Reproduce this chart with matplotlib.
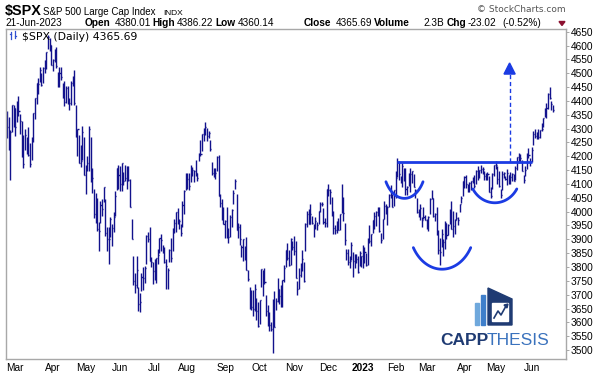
import numpy as np
import pandas as pd
import matplotlib
matplotlib.use("Agg")
import matplotlib.pyplot as plt
from matplotlib.patches import Polygon, Rectangle

W, H = 596, 374

# $SPX daily bars, 22-Feb-2022 .. 21-Jun-2023 (high, low, close)
highs = [
    4362, 4341, 4295, 4385, 4385,  # Feb 22
    4375, 4401, 4416, 4354, 4327, 4276, 4299, 4268, 4304, 4247, 4271, 4358, 4412, 4465, 4481, 4522, 4501, 4521, 4546, 4575, 4637, 4627, 4603,
    4550, 4587, 4594, 4504, 4521, 4521, 4464, 4471, 4453, 4453, 4410, 4471, 4489, 4513, 4386, 4300, 4278, 4240, 4308, 4269,
    4169, 4200, 4308, 4270, 4157, 4082, 4068, 4050, 3964, 4039, 4046, 4090, 4046, 3946, 3944, 3981, 3955, 3999, 4075, 4158, 4169,
    4166, 4177, 4143, 4168, 4164, 4164, 4119, 3975, 3838, 3778, 3838, 3728, 3707, 3779, 3801, 3802, 3914, 3928, 3946, 3836, 3819,
    3829, 3833, 3865, 3906, 3919, 3880, 3874, 3829, 3796, 3864, 3903, 3940, 3975, 4000, 4013, 3975, 3954, 4039, 4078, 4141,
    4140, 4141, 4168, 4161, 4151, 4187, 4141, 4211, 4257, 4280, 4301, 4325, 4302, 4293, 4258, 4181, 4159, 4156, 4200, 4204, 4063, 4044, 4015,
    3970, 4018, 3942, 3987, 4010, 4077, 4119, 4062, 3959, 3957, 3880, 3902, 3876, 3907, 3790, 3727, 3716, 3717, 3739, 3687, 3672,
    3682, 3791, 3790, 3797, 3700, 3664, 3639, 3600, 3685, 3713, 3689, 3762, 3722, 3736, 3754, 3807, 3862, 3886, 3860, 3905, 3893,
    3911, 3894, 3750, 3796, 3813, 3860, 3818, 3958, 4001, 4008, 4029, 3983, 3955, 3979, 3962, 4004, 4034, 4035, 4012, 3976, 4081,
    4101, 4080, 4052, 4002, 3951, 3966, 3977, 3991, 4100, 4053, 3959, 3864, 3864, 3839, 3889, 3853, 3846, 3846, 3838, 3858, 3840,
    3878, 3873, 3852, 3906, 3951, 3919, 3970, 3997, 4003, 4015, 4015, 3922, 3973, 4039, 4028, 4020, 4063, 4095, 4063, 4077,
    4148, 4195, 4183, 4127, 4177, 4157, 4157, 4094, 4138, 4157, 4148, 4136, 4081, 4051, 4010, 4029, 3979, 4018, 3988,
    3972, 3984, 4049, 4079, 4051, 3994, 4017, 3935, 3906, 3938, 3902, 3965, 3958, 3956, 4009, 4039, 4003, 3972, 3999, 3979, 4028, 4055, 4110,
    4128, 4133, 4100, 4108, 4110, 4125, 4132, 4150, 4164, 4152, 4169, 4163, 4148, 4138, 4142, 4127, 4089, 4139, 4170,
    4184, 4164, 4148, 4083, 4147, 4142, 4130, 4154, 4133, 4143, 4141, 4136, 4164, 4199, 4212, 4209, 4186, 4132, 4165, 4213, 4231, 4193,
    4232, 4290, 4299, 4288, 4299, 4295, 4322, 4340, 4375, 4391, 4429, 4449, 4400, 4386,
]
lows = [
    4267, 4221, 4115, 4287, 4306,
    4274, 4323, 4345, 4279, 4199, 4157, 4223, 4209, 4200, 4162, 4187, 4252, 4335, 4390, 4424, 4469, 4455, 4466, 4501, 4517, 4589, 4582, 4530,
    4509, 4540, 4519, 4452, 4450, 4474, 4409, 4381, 4392, 4390, 4367, 4387, 4455, 4385, 4268, 4200, 4174, 4162, 4188, 4131,
    4062, 4145, 4146, 4107, 4068, 3976, 3958, 3929, 3859, 3958, 3984, 4034, 3912, 3856, 3810, 3909, 3875, 3925, 3984, 4077, 4083,
    4074, 4074, 4097, 4110, 4080, 4110, 4017, 3900, 3734, 3706, 3723, 3640, 3637, 3715, 3717, 3743, 3810, 3889, 3821, 3800, 3738,
    3753, 3742, 3810, 3850, 3859, 3850, 3814, 3722, 3721, 3818, 3818, 3859, 3924, 3928, 3956, 3937, 3911, 3945, 3993, 4079,
    4080, 4079, 4107, 4128, 4107, 4128, 4112, 4183, 4201, 4219, 4256, 4277, 4254, 4265, 4218, 4131, 4125, 4119, 4147, 4057, 4017, 3971, 3954,
    3903, 3906, 3886, 3907, 3944, 4029, 4083, 3933, 3906, 3880, 3837, 3823, 3827, 3789, 3750, 3647, 3644, 3624, 3640, 3610, 3584,
    3594, 3726, 3696, 3739, 3624, 3588, 3568, 3570, 3491, 3584, 3644, 3673, 3666, 3656, 3657, 3746, 3799, 3825, 3803, 3808, 3863,
    3843, 3759, 3699, 3722, 3764, 3787, 3745, 3859, 3944, 3956, 3954, 3954, 3907, 3936, 3933, 3956, 3999, 4020, 3956, 3945, 3943,
    4056, 4027, 3985, 3918, 3918, 3921, 3933, 3935, 3994, 3966, 3879, 3827, 3807, 3796, 3827, 3765, 3798, 3813, 3780, 3805, 3801,
    3795, 3815, 3802, 3809, 3888, 3877, 3924, 3937, 3947, 3984, 3926, 3885, 3900, 3973, 3990, 3950, 4017, 4049, 4018, 4020,
    4048, 4124, 4115, 4103, 4089, 4111, 4060, 4061, 4092, 4071, 4103, 4088, 4048, 3996, 3981, 3971, 3943, 3973, 3968,
    3939, 3929, 3993, 4044, 3980, 3966, 3914, 3847, 3809, 3873, 3839, 3864, 3901, 3917, 3956, 3936, 3909, 3918, 3969, 3951, 3999, 4032, 4056,
    4087, 4087, 4072, 4070, 4077, 4102, 4086, 4100, 4113, 4123, 4139, 4136, 4115, 4113, 4115, 4072, 4049, 4080, 4127,
    4155, 4100, 4088, 4048, 4079, 4123, 4114, 4098, 4099, 4099, 4111, 4109, 4113, 4150, 4176, 4180, 4146, 4104, 4129, 4155, 4193, 4166,
    4180, 4242, 4267, 4263, 4263, 4266, 4291, 4304, 4341, 4338, 4369, 4407, 4367, 4360,
]
closes = [
    4305, 4225, 4289, 4385, 4374,
    4306, 4387, 4364, 4329, 4201, 4171, 4278, 4260, 4204, 4173, 4262, 4358, 4412, 4463, 4461, 4512, 4456, 4520, 4543, 4575, 4632, 4602, 4530,
    4546, 4583, 4526, 4481, 4500, 4488, 4413, 4397, 4447, 4393, 4392, 4463, 4460, 4394, 4272, 4297, 4175, 4184, 4288, 4132,
    4155, 4175, 4300, 4147, 4123, 3991, 4001, 3936, 3930, 4024, 4008, 4088, 3923, 3901, 3901, 3974, 3941, 3979, 4058, 4158, 4132,
    4101, 4177, 4109, 4121, 4161, 4116, 4018, 3901, 3750, 3735, 3790, 3667, 3675, 3765, 3760, 3796, 3912, 3900, 3821, 3819, 3785,
    3825, 3831, 3845, 3903, 3899, 3855, 3819, 3802, 3790, 3863, 3831, 3937, 3960, 3999, 3962, 3967, 3921, 4024, 4073, 4130,
    4119, 4091, 4155, 4152, 4145, 4140, 4122, 4210, 4208, 4280, 4297, 4305, 4275, 4284, 4228, 4138, 4128, 4141, 4199, 4058, 4031, 3986, 3955,
    3967, 3924, 3908, 3980, 4006, 4067, 4110, 3932, 3946, 3901, 3873, 3900, 3856, 3790, 3758, 3693, 3655, 3647, 3719, 3641, 3586,
    3679, 3791, 3783, 3745, 3640, 3612, 3589, 3577, 3670, 3583, 3677, 3720, 3695, 3666, 3753, 3797, 3860, 3831, 3807, 3901, 3872,
    3857, 3760, 3720, 3771, 3807, 3828, 3749, 3956, 3993, 3957, 3992, 3959, 3947, 3965, 3950, 4003, 4027, 4026, 3964, 3958, 4080,
    4077, 4072, 3999, 3941, 3933, 3964, 3934, 3991, 4019, 3996, 3896, 3852, 3818, 3821, 3879, 3822, 3845, 3829, 3783, 3849, 3840,
    3825, 3853, 3808, 3895, 3893, 3919, 3970, 3983, 3999, 3991, 3929, 3899, 3973, 4020, 4017, 4016, 4060, 4071, 4018, 4077,
    4120, 4180, 4136, 4111, 4164, 4118, 4082, 4090, 4137, 4136, 4148, 4090, 4079, 3997, 3991, 4012, 3970, 3982, 3970,
    3951, 3981, 4046, 4048, 3986, 3992, 3918, 3862, 3855, 3920, 3892, 3960, 3917, 3951, 4003, 3937, 3949, 3971, 3977, 3971, 4027, 4051, 4109,
    4124, 4101, 4090, 4105, 4110, 4109, 4092, 4146, 4138, 4152, 4154, 4155, 4130, 4133, 4137, 4072, 4056, 4136, 4169,
    4168, 4119, 4091, 4061, 4136, 4138, 4119, 4138, 4131, 4124, 4136, 4110, 4159, 4198, 4192, 4193, 4146, 4116, 4151, 4205, 4206, 4180,
    4221, 4282, 4273, 4284, 4268, 4294, 4299, 4338, 4369, 4373, 4426, 4410, 4389, 4366,
]
holidays = ['2022-04-15', '2022-05-30', '2022-06-20', '2022-07-04', '2022-09-05',
            '2022-11-24', '2022-12-26', '2023-01-02', '2023-01-16', '2023-02-20',
            '2023-04-07', '2023-05-29', '2023-06-19']

dates = pd.bdate_range('2022-02-22', '2023-06-21')
dates = dates[~dates.isin(pd.to_datetime(holidays))]
df = pd.DataFrame({'high': highs, 'low': lows, 'close': closes}, index=dates)
x = np.arange(len(df))

bar_col = '#12128c'
ann_col = '#1b3be3'
grey = '#a8a8a8'
ff = 'Liberation Sans'

fig = plt.figure(figsize=(W / 100, H / 100), dpi=100)
ax = fig.add_axes([6 / W, 1 - 359 / H, 560 / W, 330.5 / H])

# ohlc bars (high-low stick + close tick)
ax.vlines(x, df['low'], df['high'], color=bar_col, lw=1.0)
ax.hlines(df['close'], x, x + 0.65, color=bar_col, lw=1.0)

ax.set_xlim(-0.6, 340.9)
ax.set_ylim(3467.6, 4661.6)

# month labels at first trading day of each month
ticks, labels = [], []
prev = None
for i, d in enumerate(df.index):
    key = (d.year, d.month)
    if key != prev and i > 0:
        ticks.append(i)
        labels.append(str(d.year) if d.month == 1 else d.strftime('%b'))
    prev = key
ax.set_xticks(ticks)
ax.set_xticklabels(labels, fontsize=7.3, family=ff)
for t in ax.get_xticklabels():
    if t.get_text() == '2023':
        t.set_fontweight('bold')
ax.tick_params(axis='x', length=0, pad=3)

yt = np.arange(3500, 4651, 50)
ax.yaxis.tick_right()
ax.set_yticks(yt)
ax.set_yticklabels([str(v) for v in yt], fontsize=7.3, family=ff)
ax.tick_params(axis='y', length=2.5, width=0.7, color=grey, pad=1)
for s in ax.spines.values():
    s.set_color(grey)
    s.set_linewidth(1.0)

# neckline, target, head & shoulders arcs
neck = 4178
ax.hlines(neck, 238, 320, color=ann_col, lw=2.0, zorder=5)
tx = 306.5
ax.vlines(tx, neck, 4497, color=ann_col, lw=1.0, linestyles=(0, (3, 2)), zorder=5)
ax.add_patch(Polygon([[tx - 3.4, 4497], [tx + 3.4, 4497], [tx, 4537]], closed=True,
                     color=ann_col, zorder=6))


def arc(cx, hw, top, bottom):
    th = np.linspace(-1.05, 1.05, 60)
    xs = cx + hw * np.sin(th) / np.sin(1.05)
    ys = bottom + (top - bottom) * (1 - np.cos(th)) / (1 - np.cos(1.05))
    ax.plot(xs, ys, color=ann_col, lw=2.0, zorder=5, solid_capstyle='round')


arc(242.4, 11.3, 4108, 4048)
arc(265.3, 17.5, 3870, 3792)
arc(297.5, 13.4, 4082, 4032)

ax.text(0.028, 0.99, '$SPX (Daily) 4365.69', transform=ax.transAxes, fontsize=7.8,
        family='DejaVu Sans', va='top', ha='left')

# overlay in pixel coordinates for header and logo
ov = fig.add_axes([0, 0, 1, 1], zorder=10)
ov.set_xlim(0, W)
ov.set_ylim(H, 0)
ov.axis('off')

# legend glyph
ov.plot([11, 11], [32, 39], color='#3050d0', lw=0.9)
ov.plot([10, 11], [34, 34], color='#3050d0', lw=0.9)
ov.plot([15, 15], [31, 38], color='#3050d0', lw=0.9)
ov.plot([15, 16], [36, 36], color='#3050d0', lw=0.9)

ov.text(5, 15, '$SPX', fontsize=10.4, fontweight='bold', family=ff)
ov.text(43, 15, 'S&P 500 Large Cap Index', fontsize=7, family=ff)
ov.text(163, 15, 'INDX', fontsize=6, family=ff)
ov.text(566, 12, '\u00a9 StockCharts.com', fontsize=6.5, family='DejaVu Sans', color='#555555', ha='right')

row2 = [(5, '21-Jun-2023', False), (85, 'Open', True), (115, '4380.01', False),
        (152, 'High', True), (177, '4386.22', False), (215, 'Low', True),
        (238, '4360.14', False), (304, 'Close', True), (336, '4365.69', False),
        (374, 'Volume', True), (423, '2.3B', False), (447, 'Chg', True),
        (468, '-23.02', False), (502, '(-0.52%)', False)]
for px, s, b in row2:
    ov.text(px, 26, s, fontsize=7.3 if b else 7.2, fontweight='bold' if b else 'normal', family=ff)
ov.add_patch(Polygon([[559, 21.5], [565, 21.5], [562, 25.5]], closed=True, color='#8c1030'))

# CAPPTHESIS logo
ov.add_patch(Rectangle((475, 303), 4, 22, color='#6fa8dc'))
ov.add_patch(Rectangle((481, 295), 4, 30, color='#3f7fcb'))
ov.add_patch(Polygon([[488, 288], [512, 299], [512, 325], [488, 325]], closed=True, color='#1f3b73'))
ov.add_patch(Rectangle((492, 303), 16, 18, color='white'))
ov.plot([494, 498, 501, 506], [318, 311, 315, 306], color='#1f3b73', lw=1.2)
ov.add_patch(Polygon([[504, 305], [508, 304], [507, 308]], closed=True, color='#1f3b73'))
ov.text(440, 345, 'CAPP', fontsize=12.5, fontweight='bold', family=ff, color='#1f3b73')
ov.text(487, 345, 'THESIS', fontsize=12.5, family=ff, color='#3a72bd')

fig.savefig('out.png', dpi=100)
